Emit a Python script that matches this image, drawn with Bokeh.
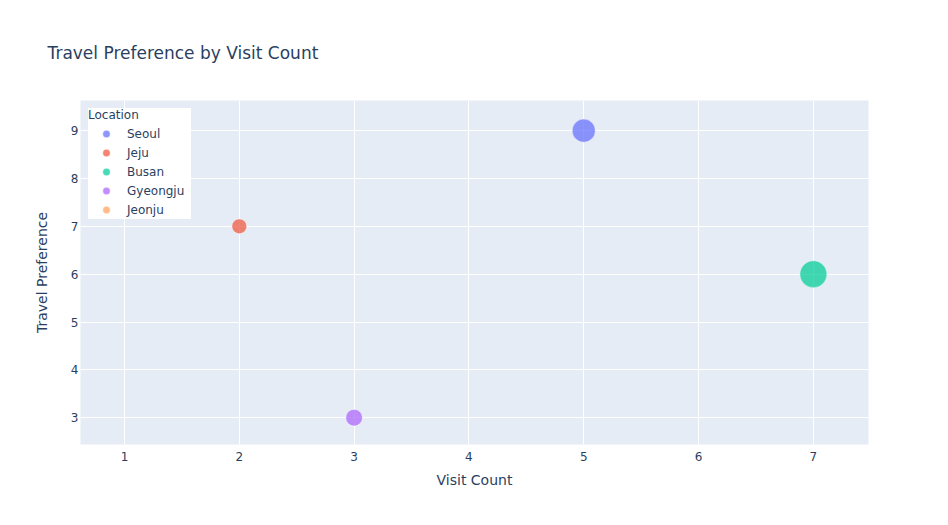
from bokeh.plotting import figure
from bokeh.models import ColumnDataSource, Legend, LegendItem, FixedTicker, Range1d
from bokeh.embed import file_html
from bokeh.resources import INLINE

locations = ["Seoul", "Jeju", "Busan", "Gyeongju", "Jeonju"]
visit_count = [5, 2, 7, 3, 1]
travel_pref = [9, 7, 6, 3, 8]
size_value = [7.3, 3, 10, 3.8, 5]
colors = ["#636EFA", "#EF553B", "#00CC96", "#AB63FA", "#FFA15A"]
title_text = "Travel Preference by Visit Count"

FONT = "DejaVu Sans"
TXT = "#2a3f5f"

p = figure(width=948, height=525, output_backend="svg", toolbar_location=None,
           x_range=Range1d(0.617, 7.48), y_range=Range1d(2.44, 9.63),
           min_border_left=80, min_border_right=80, min_border_top=100, min_border_bottom=81,
           title=title_text)
p.background_fill_color = "#E5ECF6"
p.border_fill_color = "white"
p.outline_line_color = None

p.title.text_font = FONT
p.title.text_font_size = "17px"
p.title.text_font_style = "normal"
p.title.text_color = TXT
p.title.offset = -33
p.title.standoff = 76

for ax in (p.xaxis, p.yaxis):
    ax.axis_line_color = None
    ax.major_tick_line_color = None
    ax.minor_tick_line_color = None
    ax.major_label_text_font = FONT
    ax.major_label_text_font_size = "12px"
    ax.major_label_text_color = TXT
    ax.axis_label_text_font = FONT
    ax.axis_label_text_font_size = "14px"
    ax.axis_label_text_font_style = "normal"
    ax.axis_label_text_color = TXT

p.xaxis.ticker = FixedTicker(ticks=[1, 2, 3, 4, 5, 6, 7])
p.yaxis.ticker = FixedTicker(ticks=[3, 4, 5, 6, 7, 8, 9])
p.xaxis.axis_label = "Visit Count"
p.yaxis.axis_label = "Travel Preference"
p.xaxis.major_label_standoff = 1
p.yaxis.major_label_standoff = -4
p.xaxis.axis_label_standoff = 8
p.yaxis.axis_label_standoff = 18

p.xgrid.grid_line_color = "white"
p.ygrid.grid_line_color = "white"
p.xgrid.grid_line_width = 1
p.ygrid.grid_line_width = 1

items = []
for i, loc in enumerate(locations):
    d = (size_value[i] / 10.0) ** 0.5 * 27
    src = ColumnDataSource(dict(x=[visit_count[i]], y=[travel_pref[i]], s=[d]))
    p.scatter("x", "y", size="s", source=src, fill_color=colors[i], fill_alpha=0.72,
              line_color="white", line_width=0.5, line_alpha=0.8)
    dummy = p.scatter([float("nan")], [float("nan")], size=12, fill_color=colors[i],
                      fill_alpha=0.72, line_color="white", line_width=0.5)
    items.append(LegendItem(label=loc, renderers=[dummy]))

legend = Legend(items=items, location=(8, 225), title="Location")
legend.title_text_font = FONT
legend.title_text_font_size = "12px"
legend.title_text_font_style = "normal"
legend.title_text_color = TXT
legend.label_text_font = FONT
legend.label_text_font_size = "12px"
legend.label_text_color = TXT
legend.glyph_width = 36
legend.glyph_height = 19
legend.label_height = 19
legend.label_width = 64
legend.spacing = 0
legend.padding = 9
legend.margin = 0
legend.title_standoff = 2
legend.label_standoff = 3
legend.background_fill_color = "white"
legend.background_fill_alpha = 1
legend.border_line_color = None
p.add_layout(legend)

open("out.html", "w").write(file_html(p, INLINE))
